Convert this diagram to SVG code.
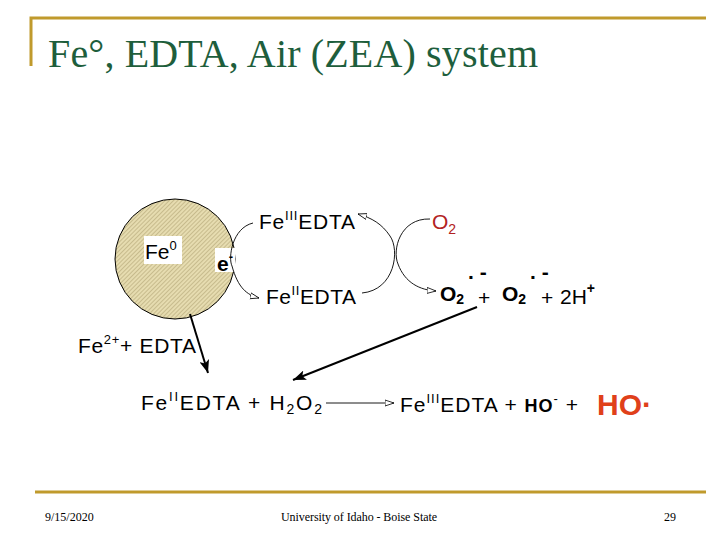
<svg xmlns="http://www.w3.org/2000/svg" width="720" height="540" viewBox="0 0 720 540">
<defs>
<style>
.s{font-family:"Liberation Sans",Arial,sans-serif;font-size:21px;fill:#000}
.b{font-weight:bold}
.ft{font-family:"Liberation Serif",serif;font-size:12px;fill:#000}
.thin{fill:none;stroke:#000;stroke-width:0.9}
.thick{fill:none;stroke:#000;stroke-width:2}
</style>
<pattern id="hatch" width="3" height="3" patternUnits="userSpaceOnUse" patternTransform="rotate(45)">
<rect width="3" height="3" fill="#e6dcb0"/>
<line x1="0" y1="0" x2="0" y2="3" stroke="#a89a6a" stroke-width="1"/>
</pattern>
<marker id="open" markerWidth="10" markerHeight="8" refX="9" refY="4" orient="auto" markerUnits="userSpaceOnUse">
<path d="M0,1 L9,4 L0,7 Z" fill="#fff" stroke="#000" stroke-width="0.8"/>
</marker>
<marker id="solid" markerWidth="14" markerHeight="10" refX="13" refY="5" orient="auto" markerUnits="userSpaceOnUse">
<path d="M0,0 L13,5 L0,10 L3,5 Z" fill="#000"/>
</marker>
</defs>
<rect width="720" height="540" fill="#fff"/>
<g id="frame" fill="none" stroke="#c09a2c" stroke-width="3">
<polyline points="31,66 31,18 706,18"/>
<line x1="35" y1="492" x2="706" y2="492"/>
</g>
<text x="48" y="67" font-family="'Liberation Serif',serif" font-size="40" fill="#1e5e3c" textLength="490">Fe°, EDTA, Air (ZEA) system</text>
<g id="fe0">
<circle cx="175" cy="259" r="60" fill="url(#hatch)" stroke="#000" stroke-width="1"/>
<rect x="144" y="236" width="38" height="28" fill="#fff"/>
<text x="145" y="259" class="s">Fe<tspan font-size="13" dy="-9">0</tspan></text>
<rect x="215" y="248" width="20" height="24" fill="#fff"/>
<text x="217" y="271" class="s b">e<tspan font-size="13" dy="-10">-</tspan></text>
</g>
<g id="connectors">
<path class="thin" d="M253,223 C232,228 228,258 232,266 C238,288 247,295 259,298" marker-end="url(#open)"/>
<path class="thin" d="M362,293 C395,290 400,250 390,236 C382,224 372,218 358,214" marker-end="url(#open)"/>
<path class="thin" d="M430,219 C400,218 392,250 398,264 C405,283 420,290 436,291" marker-end="url(#open)"/>
<line class="thick" x1="477" y1="307" x2="293" y2="380" marker-end="url(#solid)"/>
<line class="thick" x1="190" y1="314" x2="208" y2="373" marker-end="url(#solid)"/>
<line class="thin" x1="326" y1="403" x2="394" y2="403" marker-end="url(#open)"/>
</g>
<g id="fe3edta_top"><text x="259" y="229" class="s" textLength="96">Fe<tspan font-size="13" dy="-9">III</tspan><tspan dy="9">EDTA</tspan></text></g>
<g id="o2"><text x="432" y="229" class="s" style="fill:#b22222">O<tspan font-size="14" dy="5">2</tspan></text></g>
<g id="fe2edta_top"><text x="266" y="304" class="s" textLength="90">Fe<tspan font-size="13" dy="-9">II</tspan><tspan dy="9">EDTA</tspan></text></g>
<g id="superoxide">
<text x="440" y="301" class="s b">O<tspan font-size="14" dy="3">2</tspan></text>
<text x="468" y="279" class="s b">. -</text>
<text x="478" y="305" class="s">+</text>
<text x="502" y="301" class="s b">O<tspan font-size="14" dy="3">2</tspan></text>
<text x="530" y="279" class="s b">. -</text>
<text x="541" y="305" class="s">+</text>
<text x="560" y="304" class="s">2H<tspan font-size="14" dy="-11" font-weight="bold">+</tspan></text>
</g>
<g id="fe2edta_free"><text x="78" y="353" class="s" textLength="118">Fe<tspan font-size="13" dy="-9">2+</tspan><tspan dy="9">+ EDTA</tspan></text></g>
<g id="fenton_left"><text x="141" y="410" class="s" textLength="181">Fe<tspan font-size="13" dy="-9">II</tspan><tspan dy="9">EDTA + H</tspan><tspan font-size="14" dy="4">2</tspan><tspan dy="-4">O</tspan><tspan font-size="14" dy="4">2</tspan></text></g>
<g id="fenton_right">
<text x="400" y="412" class="s" textLength="178">Fe<tspan font-size="13" dy="-9">III</tspan><tspan dy="9">EDTA + </tspan><tspan font-weight="bold" font-size="18">HO</tspan><tspan font-size="13" dy="-9">-</tspan><tspan dy="9"> +</tspan></text>
<text x="597" y="415" font-family="'Liberation Sans',Arial,sans-serif" font-size="30" font-weight="bold" fill="#e0401a">HO·</text>
</g>
<text x="45" y="521" class="ft">9/15/2020</text>
<text x="281" y="521" class="ft" textLength="156">University of Idaho - Boise State</text>
<text x="664" y="521" class="ft">29</text>
</svg>
